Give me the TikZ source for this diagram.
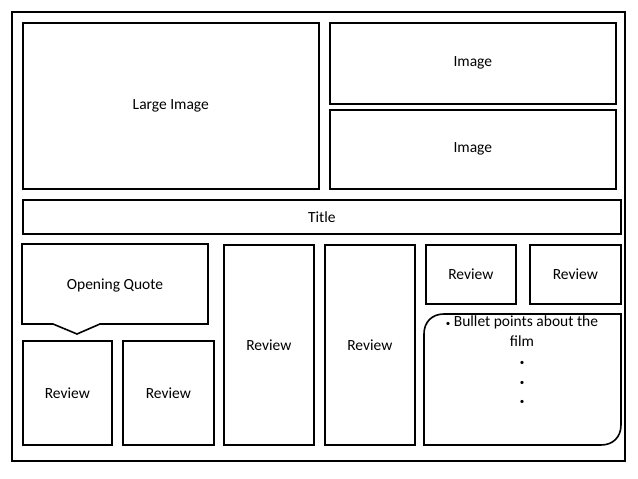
\documentclass[tikz,border=0pt]{standalone}
\usepackage{fontspec}
\setmainfont{Carlito}
\begin{document}
\begin{tikzpicture}[x=1pt,y=-1pt,line width=1.6pt,
  lab/.style={font=\fontsize{15.5}{19.5}\selectfont},
  box/.style={draw,inner sep=0pt,anchor=north west,lab}]
\useasboundingbox (0,0) rectangle (638,479);
\draw (12,12) rectangle (625,461);
\node[box,minimum width=296,minimum height=166] (large) at (22,22) {Large Image};
\node[box,minimum width=286,minimum height=81] (img1) at (329,22) {Image};
\node[box,minimum width=286,minimum height=79] (img2) at (329,109) {Image};
\node[box,minimum width=598,minimum height=34] (title) at (22,199) {Title};
\draw (22,244) -- (208,244) -- (208,324) -- (100,324) -- (77,334) -- (53,324) -- (22,324) -- cycle;
\node[lab] (quote) at (115,285) {Opening Quote};
\node[box,minimum width=89,minimum height=104] (r1) at (22,340) {Review};
\node[box,minimum width=91,minimum height=104] (r2) at (122,340) {Review};
\node[box,minimum width=90,minimum height=200] (r3) at (223,244) {Review};
\node[box,minimum width=90,minimum height=200] (r4) at (324,244) {Review};
\node[box,minimum width=90,minimum height=59] (r5) at (425,244) {Review};
\node[box,minimum width=91,minimum height=59] (r6) at (529,244) {Review};
\draw (424,445) -- (424,334) .. controls (424,322) and (432,314) .. (444,314) -- (621,314) -- (621,425) .. controls (621,437) and (613,445) .. (601,445) -- cycle;
\node[lab,align=center,anchor=north] (bul) at (522,312)
  {{\small\textbullet}\ Bullet points about the\\film\\{\small\textbullet}\\{\small\textbullet}\\{\small\textbullet}};
\end{tikzpicture}
\end{document}
